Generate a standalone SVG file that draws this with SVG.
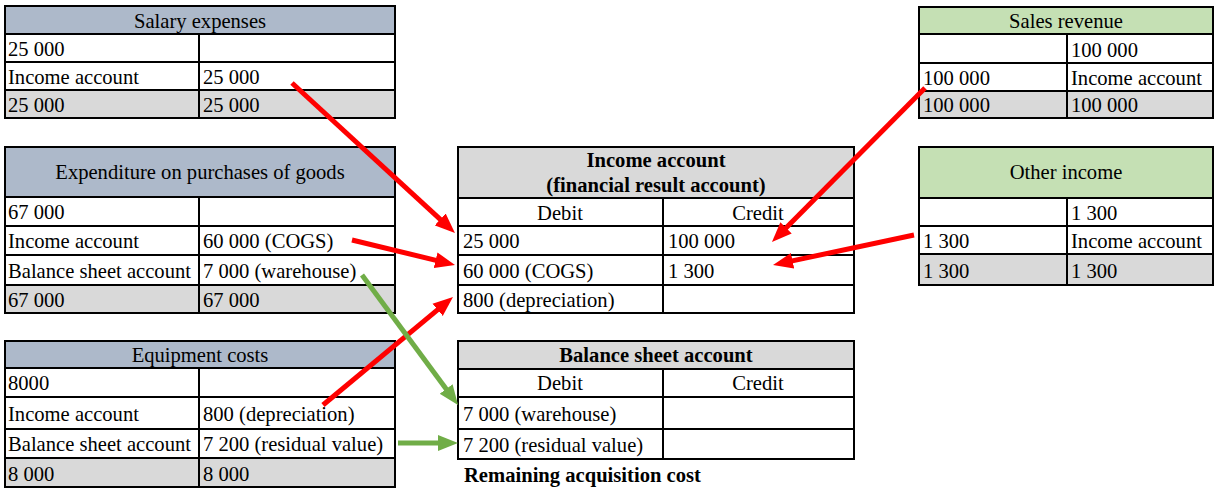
<svg xmlns="http://www.w3.org/2000/svg" width="1220" height="493" viewBox="0 0 1220 493">
<style>
.c{stroke:#000;stroke-width:2}
.w{fill:#fff}.g{fill:#d9d9d9}.b{fill:#adb9ca}.gr{fill:#c5e0b4}
.t{font-family:"Liberation Serif","Times New Roman",serif;font-size:20.6px;fill:#000}
.m{text-anchor:middle}.bd{font-weight:bold}
.red{stroke:#ff0000;stroke-width:5;fill:none}
.grn{stroke:#70ad47;stroke-width:5;fill:none}
</style>
<defs>
<marker id="ar" markerUnits="userSpaceOnUse" markerWidth="22" markerHeight="18" refX="10" refY="8" orient="auto" viewBox="0 0 22 16">
<path d="M0,0 L20,8 L0,16 z" fill="#ff0000"/>
</marker>
<marker id="ag" markerUnits="userSpaceOnUse" markerWidth="22" markerHeight="18" refX="10" refY="8" orient="auto" viewBox="0 0 22 16">
<path d="M0,0 L20,8 L0,16 z" fill="#70ad47"/>
</marker>
</defs>
<rect width="1220" height="493" fill="#fff"/>

<g id="salary">
<rect class="c b" x="5" y="6" width="390" height="28"/>
<rect class="c w" x="5" y="34" width="194" height="28"/><rect class="c w" x="199" y="34" width="196" height="28"/>
<rect class="c w" x="5" y="62" width="194" height="28"/><rect class="c w" x="199" y="62" width="196" height="28"/>
<rect class="c g" x="5" y="90" width="194" height="28"/><rect class="c g" x="199" y="90" width="196" height="28"/>
<text class="t m" x="200" y="28">Salary expenses</text>
<text class="t" x="8" y="56">25 000</text>
<text class="t" x="8" y="84">Income account</text><text class="t" x="203" y="84">25 000</text>
<text class="t" x="8" y="112">25 000</text><text class="t" x="203" y="112">25 000</text>
</g>

<g id="expenditure">
<rect class="c b" x="5" y="147" width="390" height="50"/>
<rect class="c w" x="5" y="197" width="194" height="29"/><rect class="c w" x="199" y="197" width="196" height="29"/>
<rect class="c w" x="5" y="226" width="194" height="29"/><rect class="c w" x="199" y="226" width="196" height="29"/>
<rect class="c w" x="5" y="255" width="194" height="30"/><rect class="c w" x="199" y="255" width="196" height="30"/>
<rect class="c g" x="5" y="285" width="194" height="28"/><rect class="c g" x="199" y="285" width="196" height="28"/>
<text class="t m" x="200" y="179">Expenditure on purchases of goods</text>
<text class="t" x="8" y="219">67 000</text>
<text class="t" x="8" y="248">Income account</text><text class="t" x="203" y="248">60 000 (COGS)</text>
<text class="t" x="8" y="278">Balance sheet account</text><text class="t" x="203" y="278">7 000 (warehouse)</text>
<text class="t" x="8" y="307">67 000</text><text class="t" x="203" y="307">67 000</text>
</g>

<g id="equipment">
<rect class="c b" x="5" y="341" width="390" height="27"/>
<rect class="c w" x="5" y="368" width="194" height="29"/><rect class="c w" x="199" y="368" width="196" height="29"/>
<rect class="c w" x="5" y="397" width="194" height="32"/><rect class="c w" x="199" y="397" width="196" height="32"/>
<rect class="c w" x="5" y="429" width="194" height="29"/><rect class="c w" x="199" y="429" width="196" height="29"/>
<rect class="c g" x="5" y="458" width="194" height="29"/><rect class="c g" x="199" y="458" width="196" height="29"/>
<text class="t m" x="200" y="362">Equipment costs</text>
<text class="t" x="8" y="390">8000</text>
<text class="t" x="8" y="421">Income account</text><text class="t" x="203" y="421">800 (depreciation)</text>
<text class="t" x="8" y="451">Balance sheet account</text><text class="t" x="203" y="451">7 200 (residual value)</text>
<text class="t" x="8" y="481">8 000</text><text class="t" x="203" y="481">8 000</text>
</g>

<g id="income-account">
<rect class="c g" x="458" y="147" width="396" height="51"/>
<rect class="c w" x="458" y="198" width="205" height="28"/><rect class="c w" x="663" y="198" width="191" height="28"/>
<rect class="c w" x="458" y="226" width="205" height="29"/><rect class="c w" x="663" y="226" width="191" height="29"/>
<rect class="c w" x="458" y="255" width="205" height="30"/><rect class="c w" x="663" y="255" width="191" height="30"/>
<rect class="c w" x="458" y="285" width="205" height="28"/><rect class="c w" x="663" y="285" width="191" height="28"/>
<text class="t m bd" x="656" y="167">Income account</text>
<text class="t m bd" x="656" y="192">(financial result account)</text>
<text class="t m" x="560" y="220">Debit</text><text class="t m" x="758" y="220">Credit</text>
<text class="t" x="463" y="248">25 000</text><text class="t" x="668" y="248">100 000</text>
<text class="t" x="463" y="278">60 000 (COGS)</text><text class="t" x="668" y="278">1 300</text>
<text class="t" x="463" y="307">800 (depreciation)</text>
</g>

<g id="balance-sheet-account">
<rect class="c g" x="458" y="341" width="396" height="28"/>
<rect class="c w" x="458" y="369" width="205" height="28"/><rect class="c w" x="663" y="369" width="191" height="28"/>
<rect class="c w" x="458" y="397" width="205" height="32"/><rect class="c w" x="663" y="397" width="191" height="32"/>
<rect class="c w" x="458" y="429" width="205" height="30"/><rect class="c w" x="663" y="429" width="191" height="30"/>
<text class="t m bd" x="656" y="362">Balance sheet account</text>
<text class="t m" x="560" y="390">Debit</text><text class="t m" x="758" y="390">Credit</text>
<text class="t" x="463" y="421">7 000 (warehouse)</text>
<text class="t" x="463" y="452">7 200 (residual value)</text>
<text class="t bd" x="464" y="482">Remaining acquisition cost</text>
</g>

<g id="sales-revenue">
<rect class="c gr" x="919" y="7" width="294" height="27"/>
<rect class="c w" x="919" y="34" width="148" height="29"/><rect class="c w" x="1067" y="34" width="146" height="29"/>
<rect class="c w" x="919" y="63" width="148" height="28"/><rect class="c w" x="1067" y="63" width="146" height="28"/>
<rect class="c g" x="919" y="91" width="148" height="27"/><rect class="c g" x="1067" y="91" width="146" height="27"/>
<text class="t m" x="1066" y="28">Sales revenue</text>
<text class="t" x="1071" y="57">100 000</text>
<text class="t" x="923" y="85">100 000</text><text class="t" x="1071" y="85">Income account</text>
<text class="t" x="923" y="112">100 000</text><text class="t" x="1071" y="112">100 000</text>
</g>

<g id="other-income">
<rect class="c gr" x="919" y="147" width="294" height="51"/>
<rect class="c w" x="919" y="198" width="148" height="28"/><rect class="c w" x="1067" y="198" width="146" height="28"/>
<rect class="c w" x="919" y="226" width="148" height="28"/><rect class="c w" x="1067" y="226" width="146" height="28"/>
<rect class="c g" x="919" y="254" width="148" height="31"/><rect class="c g" x="1067" y="254" width="146" height="31"/>
<text class="t m" x="1066" y="179">Other income</text>
<text class="t" x="1071" y="220">1 300</text>
<text class="t" x="923" y="248">1 300</text><text class="t" x="1071" y="248">Income account</text>
<text class="t" x="923" y="278">1 300</text><text class="t" x="1071" y="278">1 300</text>
</g>

<g id="connectors">
<path class="red" d="M292,83 L447.6,226.2" marker-end="url(#ar)"/>
<path class="red" d="M352,240 L445.3,262.6" marker-end="url(#ar)"/>
<path class="red" d="M323,405 L445.3,303.4" marker-end="url(#ar)"/>
<path class="grn" d="M362,275 L452.1,397" marker-end="url(#ag)"/>
<path class="grn" d="M398,443 L448,443" marker-end="url(#ag)"/>
<path class="red" d="M925,88 L779,234.9" marker-end="url(#ar)"/>
<path class="red" d="M914,235 L782.8,262.9" marker-end="url(#ar)"/>
</g>
</svg>
